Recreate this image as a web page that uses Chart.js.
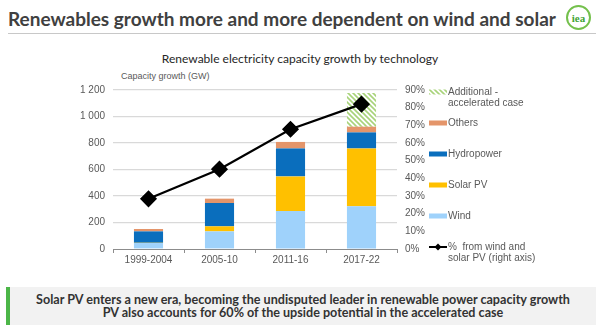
<!DOCTYPE html>
<html>
<head>
<meta charset="utf-8">
<script src="https://cdn.jsdelivr.net/npm/chart.js@4.4.1/dist/chart.umd.min.js"></script>
<style>
  body { margin: 0; width: 600px; height: 329px; background: #fff; position: relative; overflow: hidden; font-family: "Liberation Sans", Arial, sans-serif; }
  .headline { position: absolute; left: 8px; top: 7px; font: 700 19px Lato, sans-serif; color: #404040; white-space: nowrap; }
  .rule { position: absolute; left: 8px; right: 4px; top: 33px; height: 0; border-top: 1.5px solid #c8c8c8; }
  .logo { position: absolute; left: 566px; top: 5px; width: 21px; height: 21px; border: 2px solid #74c04c; border-radius: 50%; color: #3fa535; font: 700 11px "Liberation Serif", serif; text-align: center; line-height: 22px; }
  .chart-title { position: absolute; left: 0; width: 600px; top: 51px; text-align: center; font: 12px Lato, sans-serif; color: #262626; }
  .axis-title { position: absolute; left: 121px; top: 71px; font: 9px "Liberation Sans", sans-serif; color: #595959; }
  #wrap { position: absolute; left: 0; top: 40px; width: 600px; height: 235px; }
  .note { position: absolute; left: 6px; right: 4px; top: 287px; height: 38px; background: #f2f2f2; border-left: 4px solid #4cb648; text-align: center; font: 700 12.6px Lato, sans-serif; color: #333; line-height: 12.5px; padding-top: 7px; box-sizing: border-box; }
</style>
</head>
<body>
<div class="headline">Renewables growth more and more dependent on wind and solar</div>
<div class="rule"></div>
<div class="logo">iea</div>
<div class="chart-title">Renewable electricity capacity growth by technology</div>
<div class="axis-title">Capacity growth (GW)</div>
<div id="wrap"><canvas id="myChart" width="600" height="235"></canvas></div>
<div class="note">Solar PV enters a new era, becoming the undisputed leader in renewable power capacity growth<br>PV also accounts for 60% of the upside potential in the accelerated case</div>

<script>
// Periods and capacity growth (GW) by technology
let periods = ["1999-2004", "2005-10", "2011-16", "2017-22"];
let wind = [45, 133, 287, 322];
let solarPV = [2, 38, 261, 437];
let hydropower = [86, 176, 211, 121];
let others = [18, 33, 49, 43];
let additional = [0, 0, 0, 254];
// Share of wind and solar PV in growth (%), right axis
let windSolarShare = [28.4, 45.2, 67.8, 82];

// Legend text, top to bottom
let legendText = [
  ["Additional -", "accelerated case"],
  ["Others"],
  ["Hydropower"],
  ["Solar PV"],
  ["Wind"],
  ["%  from wind and", "solar PV (right axis)"],
];

// Green hatch used for the accelerated case
function hatch() {
  let c = document.createElement('canvas');
  c.width = 5; c.height = 5;
  let g = c.getContext('2d');
  g.fillStyle = '#ffffff';
  g.fillRect(0, 0, 5, 5);
  g.strokeStyle = '#a8d37a';
  g.lineWidth = 1.6;
  g.beginPath();
  g.moveTo(-1, -1); g.lineTo(6, 6);
  g.moveTo(-1, 4); g.lineTo(1, 6);
  g.moveTo(4, -1); g.lineTo(6, 1);
  g.stroke();
  return g.createPattern(c, 'repeat');
}

function spaced(v) {
  return String(v).replace(/\B(?=(\d{3})+(?!\d))/g, ' ');
}

// Right-hand legend drawn next to the plot
const sideLegend = {
  id: 'sideLegend',
  afterDraw(chart) {
    let g = chart.ctx;
    let sets = chart.data.datasets;
    // bar datasets from top of stack down, then the line
    let items = [sets[4], sets[3], sets[2], sets[1], sets[0], sets[5]];
    let x0 = 429, y0 = 52, step = 31;
    g.save();
    g.font = '10px "Liberation Sans", Arial, sans-serif';
    g.fillStyle = '#595959';
    g.textBaseline = 'middle';
    items.forEach((ds, i) => {
      let y = y0 + i * step;
      if (ds.type === 'line') {
        g.strokeStyle = ds.borderColor;
        g.lineWidth = 2;
        g.beginPath(); g.moveTo(x0, y); g.lineTo(x0 + 18, y); g.stroke();
        g.fillStyle = ds.pointBackgroundColor;
        g.beginPath();
        g.moveTo(x0 + 9, y - 3.5); g.lineTo(x0 + 12.5, y); g.lineTo(x0 + 9, y + 3.5); g.lineTo(x0 + 5.5, y);
        g.closePath(); g.fill();
      } else {
        g.fillStyle = ds.backgroundColor;
        g.fillRect(x0, y - 2.5, 18, 5);
      }
      g.fillStyle = '#595959';
      legendText[i].forEach((t, k) => g.fillText(t, x0 + 19, y + k * 11.5));
    });
    g.restore();
  }
};

let ctx = document.getElementById('myChart').getContext('2d');
let myChart = new Chart(ctx, {
  type: 'bar',
  data: {
    labels: periods,
    datasets: [
      { label: 'Wind', data: wind, backgroundColor: '#9fd2fb', yAxisID: 'y', order: 1 },
      { label: 'Solar PV', data: solarPV, backgroundColor: '#ffc000', yAxisID: 'y', order: 1 },
      { label: 'Hydropower', data: hydropower, backgroundColor: '#0a6ebd', yAxisID: 'y', order: 1 },
      { label: 'Others', data: others, backgroundColor: '#e4956a', yAxisID: 'y', order: 1 },
      { label: 'Additional - accelerated case', data: additional, backgroundColor: hatch(), yAxisID: 'y', order: 1 },
      {
        type: 'line', label: '% from wind and solar PV (right axis)', data: windSolarShare, yAxisID: 'y1', order: 0,
        borderColor: '#000000', borderWidth: 2.2, pointStyle: 'rectRot', pointRadius: 7,
        pointBackgroundColor: '#000000', pointBorderColor: '#000000', tension: 0
      }
    ]
  },
  options: {
    responsive: false,
    animation: false,
    devicePixelRatio: 1,
    layout: { padding: { top: 50, bottom: 0, left: 0, right: 0 } },
    datasets: { bar: { categoryPercentage: 1, barPercentage: 0.41 } },
    plugins: { legend: { display: false }, tooltip: { enabled: false } },
    scales: {
      x: {
        stacked: true,
        grid: { drawOnChartArea: false, drawTicks: true, tickLength: 4, color: '#8c8c8c', offset: true },
        border: { display: true, color: '#8c8c8c', width: 1 },
        ticks: { color: '#595959', font: { family: '"Liberation Sans", Arial, sans-serif', size: 10 }, padding: 1 },
        afterFit(s) { s.height = 26; }
      },
      y: {
        stacked: true, min: 0, max: 1200,
        ticks: { stepSize: 200, color: '#595959', padding: 8, font: { family: '"Liberation Sans", Arial, sans-serif', size: 10 }, callback: v => spaced(v) },
        grid: { color: ctx => ctx.tick.value === 0 ? 'rgba(0,0,0,0)' : '#d9d9d9', drawTicks: false, lineWidth: 1.2 },
        border: { display: false },
        afterFit(s) { s.width = 113; }
      },
      y1: {
        position: 'right', min: 0, max: 90,
        ticks: { stepSize: 10, color: '#595959', padding: 8, font: { family: '"Liberation Sans", Arial, sans-serif', size: 10 }, callback: v => v + '%' },
        grid: { drawOnChartArea: false, drawTicks: false },
        border: { display: false },
        afterFit(s) { s.width = 203; }
      }
    }
  },
  plugins: [sideLegend]
});
</script>
</body>
</html>
